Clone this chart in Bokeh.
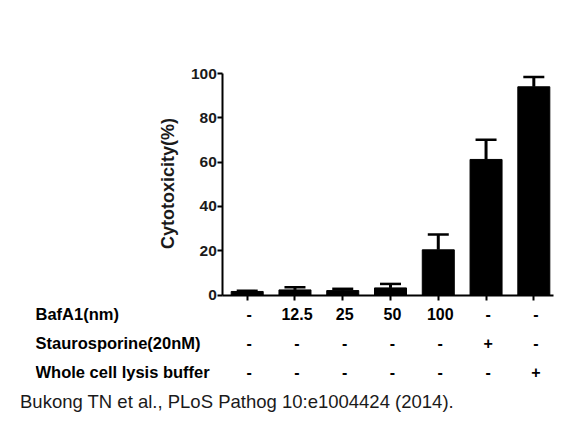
from bokeh.plotting import figure
from bokeh.models import (Range1d, FixedTicker, ColumnDataSource, Label, Whisker,
                          TeeHead, Div)
from bokeh.layouts import column
from bokeh.core.properties import value
from bokeh.embed import file_html
from bokeh.resources import INLINE
import math

# data
groups = [0, 1, 2, 3, 4, 5, 6]
cytotox = [1.6, 2.3, 2.0, 3.2, 20.4, 61.2, 94.0]
err_top = [1.9, 3.5, 2.8, 5.0, 27.3, 70.1, 98.4]

row_names = ["BafA1(nm)", "Staurosporine(20nM)", "Whole cell lysis buffer"]
bafa1_row = ["-", "12.5", "25", "50", "100", "-", "-"]
stauro_row = ["-", "-", "-", "-", "-", "+", "-"]
lysis_row = ["-", "-", "-", "-", "-", "-", "+"]
y_ticks = [0, 20, 40, 60, 80, 100]

caption = "Bukong TN et al., PLoS Pathog 10:e1004424 (2014)."

FONT = "Liberation Sans"

# layout in pixels (figure coords) -> data ranges, so the table fits in the frame
W, H = 567, 389
LEFT, RIGHT, TOP = 35, 560, 40
Y0_PX, PX_Y = 294.5, 2.215      # pixel of y=0, pixels per %
X0_PX, PX_X = 246.7, 47.77      # pixel of first group, pixels per group
X_LO, X_HI = -0.51, 6.41        # ends of the drawn x axis


def ydat(px):
    return (Y0_PX - px) / PX_Y


def xdat(px):
    return (px - X0_PX) / PX_X


src = ColumnDataSource(data={"x": groups, "top": cytotox, "upper": err_top})

p = figure(width=W, height=H, x_range=Range1d(xdat(LEFT), xdat(RIGHT)),
           y_range=Range1d(ydat(H), ydat(TOP)),
           x_axis_location="above", output_backend="svg", toolbar_location=None, tools="",
           min_border_left=LEFT, min_border_right=W - RIGHT, min_border_top=TOP,
           min_border_bottom=0)
p.outline_line_color = None
p.grid.visible = False
p.background_fill_color = "white"
p.border_fill_color = "white"

p.vbar(x="x", top="top", width=0.67, source=src, fill_color="black", line_color="black")

# error bars, upper only
wh = Whisker(source=src, base="x", lower="top", upper="upper", dimension="height",
             lower_head=None, upper_head=TeeHead(size=21, line_width=2.5, line_color="black"),
             line_width=3, line_color="black")
p.add_layout(wh)

# y axis, drawn at the left end of the x axis
p.yaxis.fixed_location = X_LO
p.yaxis.bounds = (0, 100)
p.yaxis.ticker = FixedTicker(ticks=y_ticks)
p.yaxis.major_label_text_font = FONT
p.yaxis.major_label_text_font_style = "bold"
p.yaxis.major_label_text_font_size = "15.5px"
p.yaxis.major_label_text_color = "#1a1a1a"
p.yaxis.major_label_standoff = 1
p.yaxis.major_tick_in = 0
p.yaxis.major_tick_out = 5
p.yaxis.minor_tick_line_color = None
p.yaxis.axis_line_width = 2
p.yaxis.major_tick_line_width = 2

# x axis at y=0, ticks pointing down, labels given by the table
p.xaxis.fixed_location = 0
p.xaxis.bounds = (X_LO, X_HI)
p.xaxis.ticker = FixedTicker(ticks=groups)
p.xaxis.major_label_text_color = None
p.xaxis.major_tick_in = 5
p.xaxis.major_tick_out = 0
p.xaxis.minor_tick_line_color = None
p.xaxis.axis_line_width = 2
p.xaxis.major_tick_line_width = 2

p.text(x=[xdat(167)], y=[ydat(183)], text=["Cytotoxicity(%)"], angle=math.pi / 2,
       text_align="center", text_baseline="middle", text_font=value(FONT),
       text_font_style="bold", text_font_size="18px", text_color="#1a1a1a")

# table under the axis
rows = [bafa1_row, stauro_row, lysis_row]
row_px = [313.5, 342.7, 371]
for name, row, ypx in zip(row_names, rows, row_px):
    p.text(x=groups, y=[ydat(ypx)] * len(groups), text=row, x_offset=2,
           text_align="center", text_baseline="middle", text_font=value(FONT),
           text_font_style="bold", text_font_size="16px", text_color="black")
    p.add_layout(Label(x=0, y=ydat(ypx), x_units="screen", text=name,
                       text_align="left", text_baseline="middle",
                       text_font=FONT, text_font_style="bold", text_font_size="16.5px",
                       text_color="black"))

cap = Div(text=caption, width=W, height=24, margin=(0, 0, 0, 0),
          styles={"font-family": FONT, "font-size": "18.5px", "color": "#1a1a1a",
                  "padding-left": "20px", "white-space": "nowrap"})

layout = column(p, cap)

open("out.html", "w").write(file_html(layout, INLINE))
